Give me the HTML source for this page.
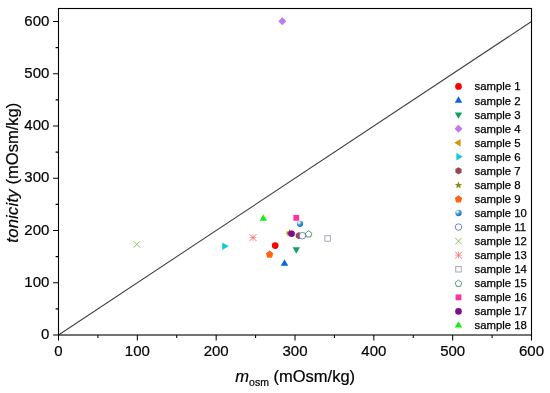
<!DOCTYPE html>
<html><head><meta charset="utf-8"><title>tonicity vs osmolality</title>
<style>html,body{margin:0;padding:0;background:#fff}body{width:550px;height:393px;overflow:hidden}</style>
</head><body>
<svg width="550" height="393" viewBox="0 0 550 393" style="display:block;font-family:'Liberation Sans', Arial, sans-serif">
<rect x="0" y="0" width="550" height="393" fill="#fff"/>
<line x1="58.50" y1="335.00" x2="531.50" y2="21.50" stroke="#404040" stroke-width="1.05"/>
<rect x="58.5" y="8.5" width="473.00" height="326.50" fill="none" stroke="#000" stroke-width="1.1"/>
<path d="M58.50 335.0 v5.4 M58.5 335.00 h-5.4 M97.92 335.0 v2.9 M58.5 308.88 h-2.9 M137.33 335.0 v5.4 M58.5 282.75 h-5.4 M176.75 335.0 v2.9 M58.5 256.62 h-2.9 M216.17 335.0 v5.4 M58.5 230.50 h-5.4 M255.58 335.0 v2.9 M58.5 204.38 h-2.9 M295.00 335.0 v5.4 M58.5 178.25 h-5.4 M334.42 335.0 v2.9 M58.5 152.12 h-2.9 M373.83 335.0 v5.4 M58.5 126.00 h-5.4 M413.25 335.0 v2.9 M58.5 99.88 h-2.9 M452.67 335.0 v5.4 M58.5 73.75 h-5.4 M492.08 335.0 v2.9 M58.5 47.62 h-2.9 M531.50 335.0 v5.4 M58.5 21.50 h-5.4" stroke="#000" stroke-width="1.05" fill="none"/>
<g font-size="15" fill="#000" stroke="#000" stroke-width="0.2">
<text x="58.50" y="355.8" text-anchor="middle">0</text>
<text x="49.4" y="339.10" text-anchor="end">0</text>
<text x="137.33" y="355.8" text-anchor="middle">100</text>
<text x="49.4" y="286.85" text-anchor="end">100</text>
<text x="216.17" y="355.8" text-anchor="middle">200</text>
<text x="49.4" y="234.60" text-anchor="end">200</text>
<text x="295.00" y="355.8" text-anchor="middle">300</text>
<text x="49.4" y="182.35" text-anchor="end">300</text>
<text x="373.83" y="355.8" text-anchor="middle">400</text>
<text x="49.4" y="130.10" text-anchor="end">400</text>
<text x="452.67" y="355.8" text-anchor="middle">500</text>
<text x="49.4" y="77.85" text-anchor="end">500</text>
<text x="531.50" y="355.8" text-anchor="middle">600</text>
<text x="49.4" y="25.60" text-anchor="end">600</text>
</g>
<text x="295.2" y="382" font-size="16.5" text-anchor="middle" fill="#000" stroke="#000" stroke-width="0.2"><tspan font-style="italic">m</tspan><tspan font-size="10.5" dy="3.8">osm</tspan><tspan dy="-3.8"> (mOsm/kg)</tspan></text>
<text transform="translate(17.7 242.7) rotate(-90)" font-size="16.55" letter-spacing="0.27" font-style="italic" fill="#000" stroke="#000" stroke-width="0.2">tonicity</text>
<text transform="translate(17.5 102.7) rotate(-90)" font-size="16.55" text-anchor="end" fill="#000" stroke="#000" stroke-width="0.2">(mOsm/kg)</text>
<defs><radialGradient id="sph" cx="0.35" cy="0.3" r="0.75"><stop offset="0" stop-color="#ffffff"/><stop offset="0.2" stop-color="#c8e2f8"/><stop offset="0.5" stop-color="#3c96dc"/><stop offset="1" stop-color="#1a6cb8"/></radialGradient></defs>
<circle cx="275.20" cy="245.60" r="3.35" fill="#ff0000" stroke="none" stroke-width="0"/>
<polygon points="284.50,259.30 288.22,265.75 280.78,265.75" fill="#0a64e0" stroke="none" stroke-width="0" stroke-linejoin="round"/>
<polygon points="296.30,253.70 300.02,247.25 292.58,247.25" fill="#14a064" stroke="none" stroke-width="0" stroke-linejoin="round"/>
<polygon points="286.30,21.20 282.30,25.20 278.30,21.20 282.30,17.20" fill="#c47ae6" stroke="none" stroke-width="0" stroke-linejoin="round"/>
<polygon points="285.70,233.60 292.15,229.88 292.15,237.32" fill="#d4960a" stroke="none" stroke-width="0" stroke-linejoin="round"/>
<polygon points="228.70,246.30 222.25,242.58 222.25,250.02" fill="#14c8d2" stroke="none" stroke-width="0" stroke-linejoin="round"/>
<polygon points="302.02,237.50 298.90,239.30 295.78,237.50 295.78,233.90 298.90,232.10 302.02,233.90" fill="#964a52" stroke="none" stroke-width="0" stroke-linejoin="round"/>
<polygon points="289.50,229.10 290.50,231.52 293.11,231.73 291.12,233.43 291.73,235.97 289.50,234.60 287.27,235.97 287.88,233.43 285.89,231.73 288.50,231.52" fill="#8c8c14" stroke="none" stroke-width="0" stroke-linejoin="round"/>
<polygon points="269.60,250.60 273.31,253.29 271.89,257.66 267.31,257.66 265.89,253.29" fill="#ff6414" stroke="none" stroke-width="0" stroke-linejoin="round"/>
<circle cx="300.00" cy="223.80" r="3.15" fill="url(#sph)"/>
<circle cx="302.50" cy="235.70" r="3.25" fill="#fff" stroke="#6c74c4" stroke-width="0.9"/>
<path d="M133.60 241.20 L140.00 247.60 M133.60 247.60 L140.00 241.20" stroke="#8cc05a" stroke-width="1.0" fill="none"/>
<path d="M249.70 237.60 H256.30 M253.00 234.30 V240.90" stroke="#ff5a5a" stroke-width="0.6" fill="none"/><path d="M249.50 234.10 L256.50 241.10 M249.50 241.10 L256.50 234.10" stroke="#ff5a5a" stroke-width="0.8" fill="none"/>
<rect x="324.85" y="235.75" width="5.5" height="5.5" fill="#fff" stroke="#9c9cb6" stroke-width="0.9"/>
<polygon points="308.60,230.75 311.88,233.13 310.63,236.99 306.57,236.99 305.32,233.13" fill="#fff" stroke="#3c9464" stroke-width="0.9" stroke-linejoin="round"/>
<rect x="293.40" y="214.90" width="5.8" height="5.8" fill="#ff32a5" stroke="none" stroke-width="0"/>
<circle cx="291.60" cy="233.70" r="3.3" fill="#820a8c" stroke="none" stroke-width="0"/>
<polygon points="263.30,214.40 267.02,220.85 259.58,220.85" fill="#14f014" stroke="none" stroke-width="0" stroke-linejoin="round"/>
<g font-size="11.35" fill="#000">
<circle cx="458.50" cy="86.45" r="3.35" fill="#ff0000" stroke="none" stroke-width="0"/>
<text x="474.5" y="90.45" stroke="#000" stroke-width="0.25">sample 1</text>
<polygon points="458.50,96.21 462.22,102.66 454.78,102.66" fill="#0a64e0" stroke="none" stroke-width="0" stroke-linejoin="round"/>
<text x="474.5" y="104.51" stroke="#000" stroke-width="0.25">sample 2</text>
<polygon points="458.50,118.87 462.22,112.42 454.78,112.42" fill="#14a064" stroke="none" stroke-width="0" stroke-linejoin="round"/>
<text x="474.5" y="118.57" stroke="#000" stroke-width="0.25">sample 3</text>
<polygon points="462.50,128.63 458.50,132.63 454.50,128.63 458.50,124.63" fill="#c47ae6" stroke="none" stroke-width="0" stroke-linejoin="round"/>
<text x="474.5" y="132.63" stroke="#000" stroke-width="0.25">sample 4</text>
<polygon points="454.20,142.69 460.65,138.97 460.65,146.41" fill="#d4960a" stroke="none" stroke-width="0" stroke-linejoin="round"/>
<text x="474.5" y="146.69" stroke="#000" stroke-width="0.25">sample 5</text>
<polygon points="462.80,156.75 456.35,153.03 456.35,160.47" fill="#14c8d2" stroke="none" stroke-width="0" stroke-linejoin="round"/>
<text x="474.5" y="160.75" stroke="#000" stroke-width="0.25">sample 6</text>
<polygon points="461.62,172.61 458.50,174.41 455.38,172.61 455.38,169.01 458.50,167.21 461.62,169.01" fill="#964a52" stroke="none" stroke-width="0" stroke-linejoin="round"/>
<text x="474.5" y="174.81" stroke="#000" stroke-width="0.25">sample 7</text>
<polygon points="458.50,181.47 459.50,183.89 462.11,184.10 460.12,185.80 460.73,188.34 458.50,186.97 456.27,188.34 456.88,185.80 454.89,184.10 457.50,183.89" fill="#8c8c14" stroke="none" stroke-width="0" stroke-linejoin="round"/>
<text x="474.5" y="188.87" stroke="#000" stroke-width="0.25">sample 8</text>
<polygon points="458.50,195.33 462.21,198.02 460.79,202.39 456.21,202.39 454.79,198.02" fill="#ff6414" stroke="none" stroke-width="0" stroke-linejoin="round"/>
<text x="474.5" y="202.93" stroke="#000" stroke-width="0.25">sample 9</text>
<circle cx="458.50" cy="212.99" r="3.15" fill="url(#sph)"/>
<text x="474.5" y="216.99" stroke="#000" stroke-width="0.25">sample 10</text>
<circle cx="458.50" cy="227.05" r="3.25" fill="#fff" stroke="#6c74c4" stroke-width="0.9"/>
<text x="474.5" y="231.05" stroke="#000" stroke-width="0.25">sample 11</text>
<path d="M455.30 237.91 L461.70 244.31 M455.30 244.31 L461.70 237.91" stroke="#8cc05a" stroke-width="1.0" fill="none"/>
<text x="474.5" y="245.11" stroke="#000" stroke-width="0.25">sample 12</text>
<path d="M455.20 255.17 H461.80 M458.50 251.87 V258.47" stroke="#ff5a5a" stroke-width="0.6" fill="none"/><path d="M455.00 251.67 L462.00 258.67 M455.00 258.67 L462.00 251.67" stroke="#ff5a5a" stroke-width="0.8" fill="none"/>
<text x="474.5" y="259.17" stroke="#000" stroke-width="0.25">sample 13</text>
<rect x="455.75" y="266.48" width="5.5" height="5.5" fill="#fff" stroke="#9c9cb6" stroke-width="0.9"/>
<text x="474.5" y="273.23" stroke="#000" stroke-width="0.25">sample 14</text>
<polygon points="458.50,280.14 461.78,282.52 460.53,286.38 456.47,286.38 455.22,282.52" fill="#fff" stroke="#3c9464" stroke-width="0.9" stroke-linejoin="round"/>
<text x="474.5" y="287.29" stroke="#000" stroke-width="0.25">sample 15</text>
<rect x="455.60" y="294.45" width="5.8" height="5.8" fill="#ff32a5" stroke="none" stroke-width="0"/>
<text x="474.5" y="301.35" stroke="#000" stroke-width="0.25">sample 16</text>
<circle cx="458.50" cy="311.41" r="3.3" fill="#820a8c" stroke="none" stroke-width="0"/>
<text x="474.5" y="315.41" stroke="#000" stroke-width="0.25">sample 17</text>
<polygon points="458.50,321.17 462.22,327.62 454.78,327.62" fill="#14f014" stroke="none" stroke-width="0" stroke-linejoin="round"/>
<text x="474.5" y="329.47" stroke="#000" stroke-width="0.25">sample 18</text>
</g>
</svg>
</body></html>
